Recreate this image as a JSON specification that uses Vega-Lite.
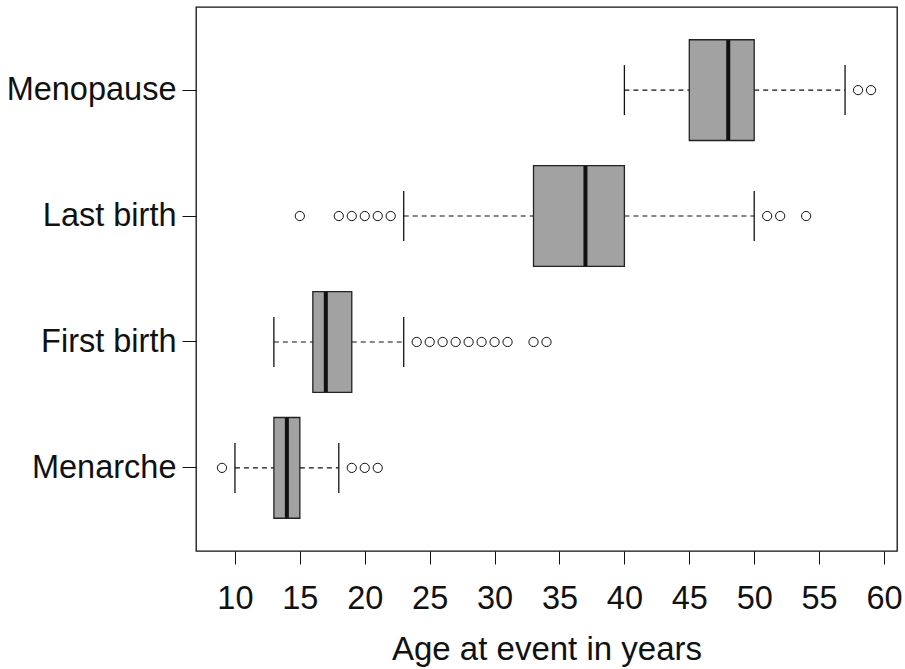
{
  "$schema": "https://vega.github.io/schema/vega-lite/v6.json",
  "autosize": {"type": "none"},
  "padding": {"left": 196, "top": 7, "right": 8, "bottom": 118},
  "width": 701,
  "height": 544,
  "background": "white",
  "datasets": {
    "boxes": [
      {"event": "Menopause", "lower": 40, "q1": 45, "median": 48, "q3": 50, "upper": 57},
      {"event": "Last birth", "lower": 23, "q1": 33, "median": 37, "q3": 40, "upper": 50},
      {"event": "First birth", "lower": 13, "q1": 16, "median": 17, "q3": 19, "upper": 23},
      {"event": "Menarche", "lower": 10, "q1": 13, "median": 14, "q3": 15, "upper": 18}
    ],
    "outliers": [
      {"event": "Menopause", "age": 58},
      {"event": "Menopause", "age": 59},
      {"event": "Last birth", "age": 15},
      {"event": "Last birth", "age": 18},
      {"event": "Last birth", "age": 19},
      {"event": "Last birth", "age": 20},
      {"event": "Last birth", "age": 21},
      {"event": "Last birth", "age": 22},
      {"event": "Last birth", "age": 51},
      {"event": "Last birth", "age": 52},
      {"event": "Last birth", "age": 54},
      {"event": "First birth", "age": 24},
      {"event": "First birth", "age": 25},
      {"event": "First birth", "age": 26},
      {"event": "First birth", "age": 27},
      {"event": "First birth", "age": 28},
      {"event": "First birth", "age": 29},
      {"event": "First birth", "age": 30},
      {"event": "First birth", "age": 31},
      {"event": "First birth", "age": 33},
      {"event": "First birth", "age": 34},
      {"event": "Menarche", "age": 9},
      {"event": "Menarche", "age": 19},
      {"event": "Menarche", "age": 20},
      {"event": "Menarche", "age": 21}
    ]
  },
  "encoding": {
    "y": {
      "field": "event",
      "type": "nominal",
      "sort": ["Menopause", "Last birth", "First birth", "Menarche"],
      "scale": {"paddingInner": 0, "paddingOuter": 0.16},
      "axis": {
        "title": null,
        "domain": false,
        "tickColor": "#111",
        "tickSize": 14,
        "labelPadding": 6,
        "labelFont": "Liberation Sans",
        "labelFontSize": 32.5,
        "labelColor": "#111"
      }
    }
  },
  "layer": [
    {
      "data": {"name": "boxes"},
      "mark": {"type": "rule", "color": "#111", "strokeWidth": 1.1, "strokeDash": [5, 4]},
      "encoding": {
        "x": {
          "field": "lower",
          "type": "quantitative",
          "scale": {"domain": [7, 61], "nice": false, "zero": false},
          "axis": {
            "title": "Age at event in years",
            "values": [10, 15, 20, 25, 30, 35, 40, 45, 50, 55, 60],
            "grid": false,
            "domain": false,
            "tickColor": "#111",
            "tickSize": 13,
            "labelPadding": 18,
            "labelFont": "Liberation Sans",
            "labelFontSize": 32.5,
            "labelColor": "#111",
            "titleFont": "Liberation Sans",
            "titleFontSize": 33,
            "titleFontWeight": "normal",
            "titleColor": "#111",
            "titlePadding": 19
          }
        },
        "x2": {"field": "q1"}
      }
    },
    {
      "data": {"name": "boxes"},
      "mark": {"type": "rule", "color": "#111", "strokeWidth": 1.1, "strokeDash": [5, 4]},
      "encoding": {
        "x": {"field": "q3", "type": "quantitative"},
        "x2": {"field": "upper"}
      }
    },
    {
      "data": {"name": "boxes"},
      "mark": {"type": "tick", "color": "#111", "opacity": 1, "thickness": 1.3, "size": 50, "orient": "vertical"},
      "encoding": {"x": {"field": "lower", "type": "quantitative"}}
    },
    {
      "data": {"name": "boxes"},
      "mark": {"type": "tick", "color": "#111", "opacity": 1, "thickness": 1.3, "size": 50, "orient": "vertical"},
      "encoding": {"x": {"field": "upper", "type": "quantitative"}}
    },
    {
      "data": {"name": "boxes"},
      "mark": {"type": "bar", "fill": "#a2a2a2", "stroke": "#222", "strokeWidth": 1.3, "opacity": 1, "height": {"band": 0.8}},
      "encoding": {
        "x": {"field": "q1", "type": "quantitative"},
        "x2": {"field": "q3"}
      }
    },
    {
      "data": {"name": "boxes"},
      "mark": {"type": "tick", "color": "#111", "opacity": 1, "thickness": 4, "size": 100, "orient": "vertical"},
      "encoding": {"x": {"field": "median", "type": "quantitative"}}
    },
    {
      "data": {"name": "outliers"},
      "mark": {"type": "point", "shape": "circle", "filled": false, "color": "#111", "strokeWidth": 1, "size": 85, "opacity": 1},
      "encoding": {"x": {"field": "age", "type": "quantitative"}}
    }
  ],
  "config": {
    "view": {"stroke": "#111", "strokeWidth": 1.3}
  }
}
